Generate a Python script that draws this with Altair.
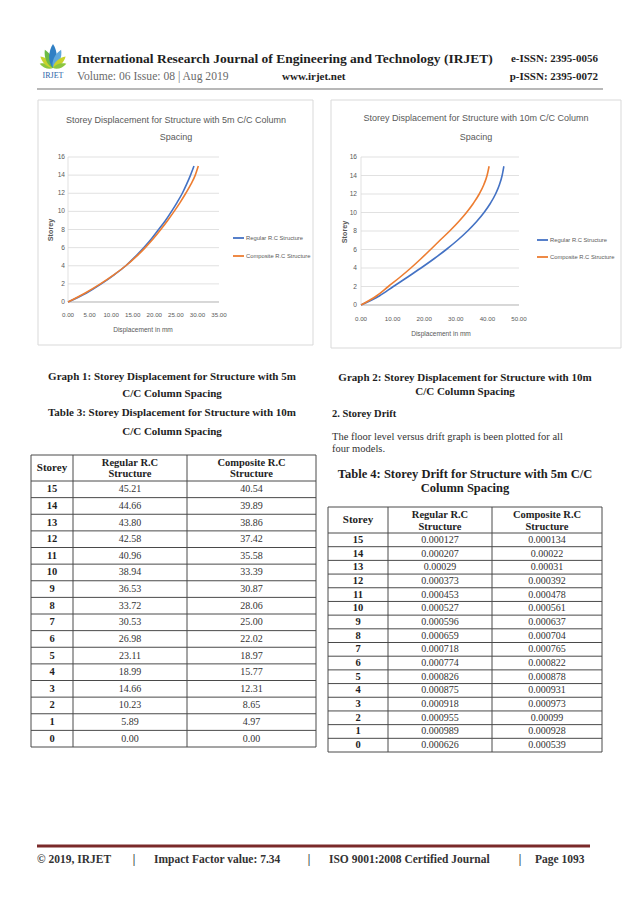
import altair as alt
import pandas as pd

# ---------------- data ----------------
storeys_desc = list(range(15, -1, -1))

# Table 3 : storey displacement, 10 m C/C spacing (mm)
t3_regular = [45.21, 44.66, 43.80, 42.58, 40.96, 38.94, 36.53, 33.72, 30.53, 26.98, 23.11, 18.99, 14.66, 10.23, 5.89, 0.00]
t3_composite = [40.54, 39.89, 38.86, 37.42, 35.58, 33.39, 30.87, 28.06, 25.00, 22.02, 18.97, 15.77, 12.31, 8.65, 4.97, 0.00]

# Table 4 : storey drift, 5 m C/C spacing
t4_regular = [0.000127, 0.000207, 0.00029, 0.000373, 0.000453, 0.000527, 0.000596, 0.000659, 0.000718, 0.000774, 0.000826, 0.000875, 0.000918, 0.000955, 0.000989, 0.000626]
t4_composite = [0.000134, 0.00022, 0.00031, 0.000392, 0.000478, 0.000561, 0.000637, 0.000704, 0.000765, 0.000822, 0.000878, 0.000931, 0.000973, 0.00099, 0.000928, 0.000539]

# Graph 1 : storey displacement, 5 m C/C spacing
g1_storeys = list(range(0, 16))
g1_regular = [0.0, 4.3, 7.7, 10.7, 13.4, 15.6, 17.6, 19.4, 21.0, 22.6, 24.0, 25.3, 26.5, 27.5, 28.4, 29.2]
g1_composite = [0.0, 4.0, 7.5, 10.6, 13.4, 15.8, 17.9, 19.8, 21.5, 23.1, 24.6, 26.0, 27.3, 28.5, 29.5, 30.2]

series = ["Regular R.C Structure", "Composite R.C Structure"]
series_colors = ["#4472c4", "#ed7d31"]
y_ticks = [0, 2, 4, 6, 8, 10, 12, 14, 16]
g1_x_ticks = [0, 5, 10, 15, 20, 25, 30, 35]
g2_x_ticks = [0, 10, 20, 30, 40, 50]

# logo leaves (decoration)
leaf_angles = [-72, -48, -24, 0, 24, 48, 72]
leaf_lengths = [14, 17, 20, 24, 20, 17, 14]
leaf_colors = ["#8cc63f", "#c8d22c", "#6dbb45", "#2f7fc4", "#5fa8dc", "#c8d22c", "#8cc63f"]

# ---------------- styling ----------------
M = 8
SERIF = "Liberation Serif"
SANS = "Liberation Sans"
DARK = "#1e1e1e"
CHART_TXT = "#595959"


def P(v):
    return v - M


ONE = pd.DataFrame({"k": [0]})
layers = []


def txt(s, x, y, size, bold=False, align="left", color=DARK, font=SERIF, angle=0):
    kw = dict(text=s, fontSize=size, font=font, align=align, baseline="middle",
              color=color, fontWeight="bold" if bold else "normal")
    if angle:
        kw["angle"] = angle
    layers.append(alt.Chart(ONE).mark_text(**kw).encode(x=alt.value(P(x)), y=alt.value(P(y))))


def hline(x1, x2, y, color, w=1.0):
    layers.append(alt.Chart(ONE).mark_rule(color=color, strokeWidth=w).encode(
        x=alt.value(P(x1)), x2=alt.value(P(x2)), y=alt.value(P(y))))


def vline(x, y1, y2, color, w=1.0):
    layers.append(alt.Chart(ONE).mark_rule(color=color, strokeWidth=w).encode(
        x=alt.value(P(x)), y=alt.value(P(y1)), y2=alt.value(P(y2))))


def rect(x1, y1, x2, y2, stroke):
    layers.append(alt.Chart(ONE).mark_rect(fill="white", stroke=stroke, strokeWidth=1).encode(
        x=alt.value(P(x1)), x2=alt.value(P(x2)), y=alt.value(P(y1)), y2=alt.value(P(y2))))


# ---------------- header ----------------
leaf_df = pd.DataFrame({
    "ang": [(a + 360) % 360 for a in leaf_angles],
    "size": [l * l for l in leaf_lengths],
    "col": leaf_colors,
})
LEAF = "M0,0 C-0.45,-0.5 -0.4,-1.4 0,-2 C0.4,-1.4 0.45,-0.5 0,0 Z"
layers.append(alt.Chart(leaf_df).mark_point(shape=LEAF, filled=True, opacity=1, strokeWidth=0).encode(
    x=alt.value(P(53)), y=alt.value(P(68)),
    angle=alt.Angle("ang:Q", scale=None),
    size=alt.Size("size:Q", scale=None),
    color=alt.Color("col:N", scale=None)))
txt("IRJET", 53, 76, 8, align="center", color="#2a63a8")

txt("International Research Journal of Engineering and Technology (IRJET)", 77, 59, 13.5, bold=True)
txt("e-ISSN: 2395-0056", 598, 59, 11, bold=True, align="right")
txt("Volume: 06 Issue: 08 | Aug 2019", 77, 77, 11.6, color="#6a6a6a")
txt("www.irjet.net", 282, 77, 11, bold=True)
txt("p-ISSN: 2395-0072", 598, 77, 11, bold=True, align="right")
hline(37, 603, 89, "#a0a0a0", 1.5)


# ---------------- charts ----------------
def line_chart(box, title_lines, title_cx, title_ys, xr, yr, xdom, xticks, storeys, reg, comp,
               ylab_x, xlab_y, xtitle_pos, ytitle_pos, legend_x, legend_ys):
    rect(box[0], box[1], box[2], box[3], "#d9d9d9")
    for t, ty in zip(title_lines, title_ys):
        txt(t, title_cx, ty, 9, align="center", color=CHART_TXT, font=SANS)
    xs = alt.Scale(domain=xdom, range=[P(xr[0]), P(xr[1])], nice=False, zero=False)
    ys = alt.Scale(domain=[0, 16], range=[P(yr[0]), P(yr[1])], nice=False, zero=False)
    grid = pd.DataFrame({"v": y_ticks})
    layers.append(alt.Chart(grid).mark_rule(color="#d9d9d9", strokeWidth=0.8).encode(
        y=alt.Y("v:Q", scale=ys, axis=None), x=alt.value(P(xr[0])), x2=alt.value(P(xr[1]))))
    vline(xr[0], yr[1], yr[0], "#d9d9d9", 0.8)
    hline(xr[0], xr[1], yr[0], "#bfbfbf", 1.0)
    layers.append(alt.Chart(grid).mark_text(align="right", baseline="middle", font=SANS, fontSize=6.6,
                                            color=CHART_TXT).encode(
        y=alt.Y("v:Q", scale=ys, axis=None), x=alt.value(P(ylab_x)), text="v:Q"))
    xt = pd.DataFrame({"v": xticks})
    layers.append(alt.Chart(xt).mark_text(align="center", baseline="middle", font=SANS, fontSize=6.2,
                                          color=CHART_TXT).encode(
        x=alt.X("v:Q", scale=xs, axis=None), y=alt.value(P(xlab_y)), text=alt.Text("v:Q", format=".2f")))
    txt("Displacement in mm", xtitle_pos[0], xtitle_pos[1], 6.6, align="center", color=CHART_TXT, font=SANS)
    txt("Storey", ytitle_pos[0], ytitle_pos[1], 7.2, bold=True, align="center", color=CHART_TXT,
        font=SANS, angle=270)
    df = pd.DataFrame({
        "storey": list(storeys) * 2,
        "disp": list(reg) + list(comp),
        "series": [series[0]] * len(reg) + [series[1]] * len(comp),
    })
    layers.append(alt.Chart(df).mark_line(strokeWidth=1.6, interpolate="monotone").encode(
        x=alt.X("disp:Q", scale=xs, axis=None),
        y=alt.Y("storey:Q", scale=ys, axis=None),
        color=alt.Color("series:N", scale=alt.Scale(domain=series, range=series_colors), legend=None),
        order="storey:Q"))
    for s, c, ly in zip(series, series_colors, legend_ys):
        hline(legend_x, legend_x + 11, ly, c, 1.8)
        txt(s, legend_x + 13, ly, 5.8, color=CHART_TXT, font=SANS)


line_chart((38, 100, 313, 345),
           ["Storey Displacement for Structure with 5m  C/C Column", "Spacing"], 176, [120, 137],
           (68, 219), (302, 157), [0, 35], g1_x_ticks, g1_storeys, g1_regular, g1_composite,
           65, 315, (143, 330), (51, 230), 233, [238, 256])

g2_storeys = storeys_desc
line_chart((331, 100, 621, 348),
           ["Storey Displacement for Structure with 10m  C/C Column", "Spacing"], 476, [118, 137],
           (361, 519), (305, 157), [0, 50], g2_x_ticks, g2_storeys, t3_regular, t3_composite,
           357, 319, (441, 334), (345, 232), 537, [240, 257])

# ---------------- captions / body ----------------
txt("Graph 1: Storey Displacement for Structure with 5m", 172, 377, 11, bold=True, align="center")
txt("C/C Column Spacing", 172, 394, 11, bold=True, align="center")
txt("Table 3: Storey Displacement for Structure with 10m", 172, 413, 11, bold=True, align="center")
txt("C/C Column Spacing", 172, 432, 11, bold=True, align="center")

txt("Graph 2: Storey Displacement for Structure with 10m", 465, 378, 11, bold=True, align="center")
txt("C/C Column Spacing", 465, 392, 11, bold=True, align="center")
txt("2. Storey Drift", 332, 414, 10.5, bold=True)
txt("The floor  level versus  drift graph is been  plotted for all", 332, 437, 10.5, color="#333333")
txt("four  models.", 332, 449, 10.5, color="#333333")
txt("Table 4: Storey Drift for Structure with 5m C/C", 465, 474, 12.5, bold=True, align="center")
txt("Column Spacing", 465, 488, 12.5, bold=True, align="center")


# ---------------- tables ----------------
def table(cols, top, hbot, bot, reg_text, comp_text, head_ys, body_size):
    left, c1, c2, right = cols
    hline(left, right, top, "#4a4a4a", 1)
    for x in cols:
        vline(x, top, bot, "#4a4a4a", 1)
    rs = alt.Scale(domain=[0, 16], range=[P(hbot), P(bot)], nice=False, zero=False)
    bounds = pd.DataFrame({"b": list(range(0, 17))})
    layers.append(alt.Chart(bounds).mark_rule(color="#4a4a4a", strokeWidth=1).encode(
        y=alt.Y("b:Q", scale=rs, axis=None), x=alt.value(P(left)), x2=alt.value(P(right))))
    hm = (top + hbot) / 2
    txt("Storey", (left + c1) / 2, hm, 11, bold=True, align="center")
    txt("Regular R.C", (c1 + c2) / 2, head_ys[0], 10.5, bold=True, align="center")
    txt("Structure", (c1 + c2) / 2, head_ys[1], 10.5, bold=True, align="center")
    txt("Composite R.C", (c2 + right) / 2, head_ys[0], 10.5, bold=True, align="center")
    txt("Structure", (c2 + right) / 2, head_ys[1], 10.5, bold=True, align="center")
    rows = pd.DataFrame({
        "r": [i + 0.5 for i in range(16)],
        "storey": [str(s) for s in storeys_desc],
        "reg": reg_text,
        "comp": comp_text,
    })
    base = alt.Chart(rows)
    layers.append(base.mark_text(fontWeight="bold", font=SERIF, fontSize=body_size + 0.5, color=DARK,
                                 baseline="middle").encode(
        y=alt.Y("r:Q", scale=rs, axis=None), x=alt.value(P((left + c1) / 2)), text="storey:N"))
    layers.append(base.mark_text(font=SERIF, fontSize=body_size, color="#333333", baseline="middle").encode(
        y=alt.Y("r:Q", scale=rs, axis=None), x=alt.value(P((c1 + c2) / 2)), text="reg:N"))
    layers.append(base.mark_text(font=SERIF, fontSize=body_size, color="#333333", baseline="middle").encode(
        y=alt.Y("r:Q", scale=rs, axis=None), x=alt.value(P((c2 + right) / 2)), text="comp:N"))


table((31, 73, 187, 316), 455, 481, 747,
      [f"{v:.2f}" for v in t3_regular], [f"{v:.2f}" for v in t3_composite], (463, 474), 10)
table((328, 388, 492, 602), 507, 533, 752,
      [str(v) for v in t4_regular], [str(v) for v in t4_composite], (515, 527), 10)

# ---------------- footer ----------------
hline(37, 590, 846, "#7a2a2a", 3)
FY = 860
txt("© 2019, IRJET", 37, FY, 11.5, bold=True, color="#333333")
txt("|", 134, FY, 11.5, bold=True, align="center", color="#333333")
txt("Impact Factor value: 7.34", 154, FY, 11.5, bold=True, color="#333333")
txt("|", 309, FY, 11.5, bold=True, align="center", color="#333333")
txt("ISO 9001:2008 Certified Journal", 329, FY, 11.5, bold=True, color="#333333")
txt("|", 520, FY, 11.5, bold=True, align="center", color="#333333")
txt("Page 1093", 535, FY, 11.5, bold=True, color="#333333")

chart = alt.layer(*layers).resolve_scale(
    x="independent", y="independent", color="independent", size="independent", angle="independent"
).properties(
    width=638 - 2 * M, height=902 - 2 * M,
    autosize=alt.AutoSizeParams(type="none"), padding=0
).configure_view(stroke=None)

chart.save("out.html", embed_options={"renderer": "svg", "actions": False})
